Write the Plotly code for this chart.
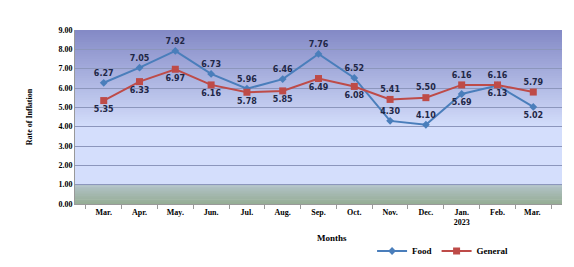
import plotly.graph_objects as go

months = ['Mar.', 'Apr.', 'May.', 'Jun.', 'Jul.', 'Aug.', 'Sep.', 'Oct.',
          'Nov.', 'Dec.', 'Jan.<br>2023', 'Feb.', 'Mar. ']
food = [6.27, 7.05, 7.92, 6.73, 5.96, 6.46, 7.76, 6.52, 4.30, 4.10, 5.69, 6.13, 5.02]
general = [5.35, 6.33, 6.97, 6.16, 5.78, 5.85, 6.49, 6.08, 5.41, 5.50, 6.16, 6.16, 5.79]
food_pos = ['top center'] * 10 + ['bottom center'] * 3
general_pos = ['bottom center'] * 8 + ['top center'] * 5


def mix(c1, c2, t):
    return 'rgb({},{},{})'.format(*[round(a + (b - a) * t) for a, b in zip(c1, c2)])


# background gradient bands (slightly overlapping so no seams show)
shapes = []
top_c, light_c = (132, 138, 198), (210, 220, 250)
n = 40
for i in range(n):
    y0 = 9 - 5 * i / n
    y1 = 9 - 5 * (i + 1) / n - 0.06
    shapes.append(dict(type='rect', xref='paper', yref='y', x0=0, x1=1, y0=y1, y1=y0,
                       fillcolor=mix(top_c, light_c, i / (n - 1)), line_width=0, layer='below'))
shapes.append(dict(type='rect', xref='paper', yref='y', x0=0, x1=1, y0=1, y1=4.0,
                   fillcolor='rgb(212,222,252)', line_width=0, layer='below'))
g_top, g_bot = (178, 194, 200), (150, 174, 150)
for i in range(12):
    y0 = 1 - i / 12
    y1 = max(0, 1 - (i + 1) / 12 - 0.03)
    shapes.append(dict(type='rect', xref='paper', yref='y', x0=0, x1=1, y0=y1, y1=y0,
                       fillcolor=mix(g_top, g_bot, i / 11), line_width=0, layer='below'))

label_font = dict(family='DejaVu Sans', size=8, color='#1f2747', weight='bold')

fig = go.Figure()
fig.add_trace(go.Scatter(
    x=months, y=food, name='Food', mode='lines+markers+text',
    line=dict(color='#4a7ebb', width=2),
    marker=dict(symbol='diamond', size=6, color='#4a7ebb'),
    text=[f'{v:.2f}' for v in food], textposition=food_pos,
    textfont=label_font,
))
fig.add_trace(go.Scatter(
    x=months, y=general, name='General', mode='lines+markers+text',
    line=dict(color='#be4b48', width=2),
    marker=dict(symbol='square', size=7, color='#be4b48'),
    text=[f'{v:.2f}' for v in general], textposition=general_pos,
    textfont=label_font,
))

fig.update_layout(
    width=574,
    height=267,
    margin=dict(l=75, r=12, t=30, b=63, autoexpand=False),
    paper_bgcolor='white',
    plot_bgcolor='rgba(0,0,0,0)',
    shapes=shapes,
    font=dict(family='Liberation Serif', size=8, color='black'),
    showlegend=True,
    legend=dict(orientation='h', x=0.61, y=0.06, xanchor='left', yanchor='middle',
                yref='container',
                font=dict(family='Liberation Serif', size=9, weight='bold'),
                itemwidth=30, tracegroupgap=0),
    annotations=[dict(text='<b>Months</b>', x=0.528, y=-(238 - 204) / (204 - 30),
                      xref='paper', yref='paper', yanchor='middle',
                      showarrow=False, font=dict(family='Liberation Serif', size=9))],
    xaxis=dict(
        tickfont=dict(size=8, weight='bold'),
        ticks='outside', tickson='boundaries', ticklen=4, tickcolor='#999',
        showgrid=False, showline=True, linecolor='#999',
    ),
    yaxis=dict(
        title=dict(text='<b>Rate of Inflation</b>', font=dict(size=8), standoff=24),
        range=[0, 9], dtick=1, tickformat='.2f',
        tickfont=dict(size=8, weight='bold'),
        showgrid=True, gridcolor='#8c96bc', gridwidth=1,
        showline=True, linecolor='#999', zeroline=False,
    ),
)

fig.write_html('out.html', config={'displayModeBar': False},
               post_script="document.body.style.margin='0';")
